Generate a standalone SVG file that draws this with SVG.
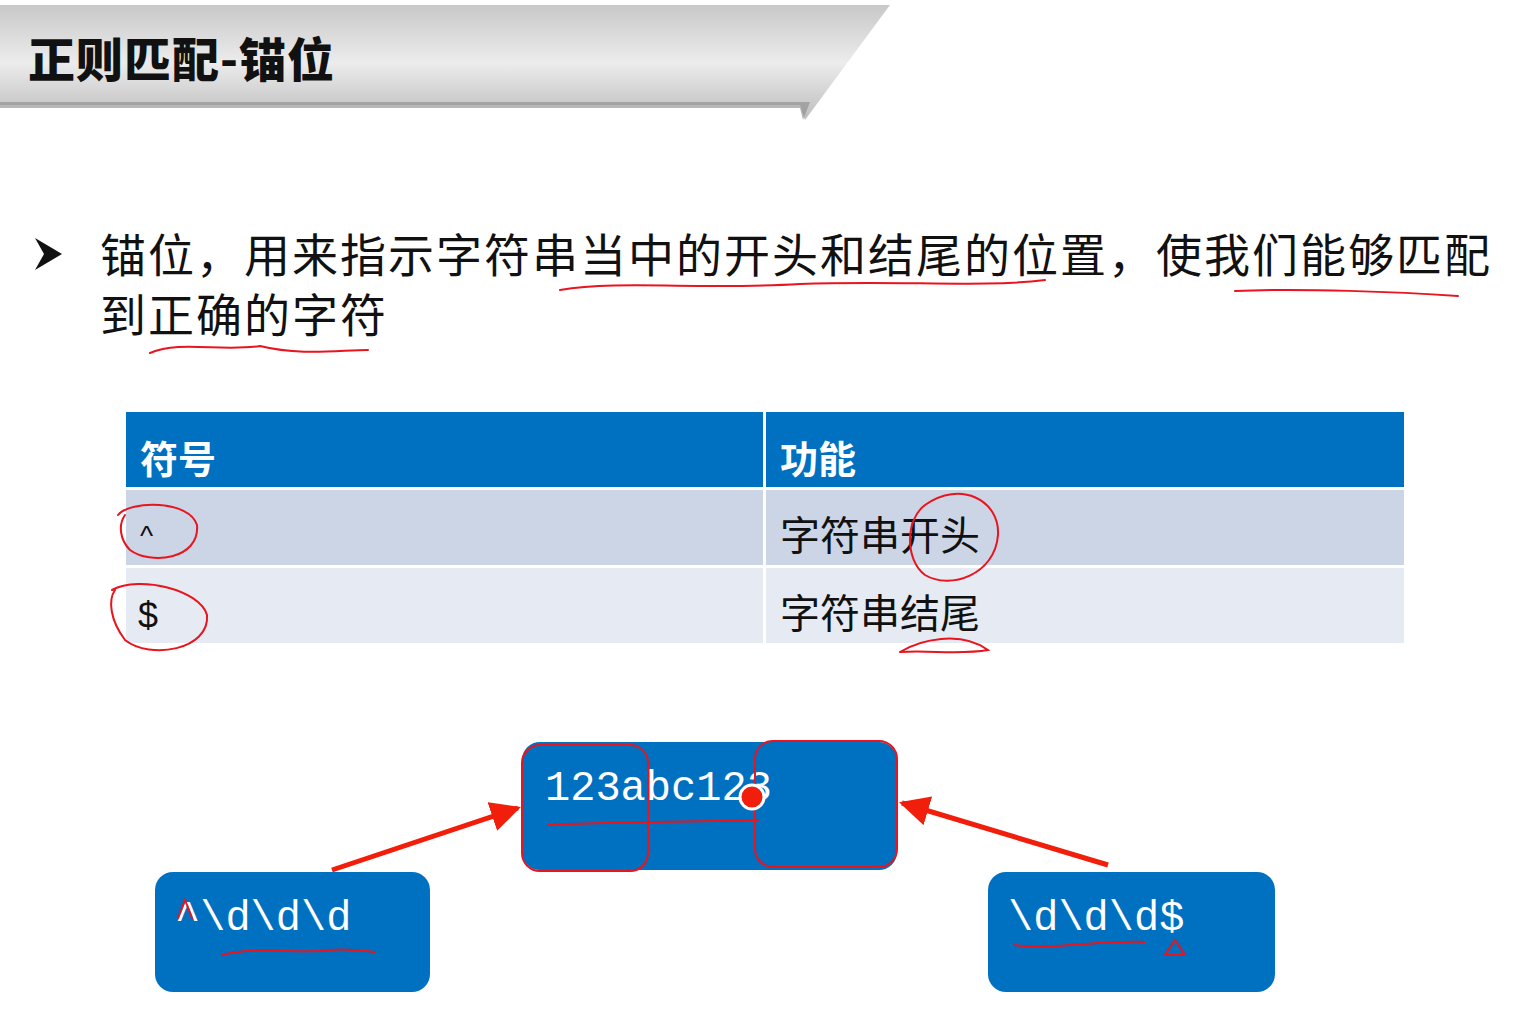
<svg xmlns="http://www.w3.org/2000/svg" width="1515" height="1018" viewBox="0 0 1515 1018">
<defs>
<linearGradient id="hg" x1="0" y1="0" x2="0" y2="1"><stop offset="0" stop-color="#c8c8c8"/><stop offset="0.5" stop-color="#ececec"/><stop offset="1" stop-color="#bdbdbd"/></linearGradient>
<marker id="ah" viewBox="0 0 10 10" refX="9" refY="5" markerWidth="6" markerHeight="6" orient="auto"><path d="M0,0L10,5L0,10z" fill="#f01e0a"/></marker>
</defs>
<style>
.t{font-family:"Noto Sans CJK SC","Noto Sans",sans-serif}
.w{fill:#fff}
.pen{fill:none;stroke:#e8141e;stroke-width:2;stroke-linecap:round}
.box{fill:#0070c0}
.mono{font-family:"Liberation Mono",monospace;font-size:42px;fill:#fff}
</style>
<rect width="1515" height="1018" fill="#fff"/>
<g id="header">
<path d="M0,5 H890 L805,120 L800,105 H0 Z" fill="url(#hg)"/>
<path d="M0,102 H810 L803,120 L800,108 H0 Z" fill="#888" opacity="0.6"/>
<text x="28" y="77" class="t" font-size="47" font-weight="900" fill="#111" letter-spacing="1">正则匹配-锚位</text>
</g>
<g id="bullet">
<path d="M35,238 L62,254 L35,270 L44,254 Z" fill="#111"/>
<text x="100" y="272" class="t" font-size="46" fill="#111" letter-spacing="2">锚位，用来指示字符串当中的开头和结尾的位置，使我们能够匹配</text>
<text x="100" y="332" class="t" font-size="46" fill="#111" letter-spacing="2">到正确的字符</text>
</g>
<g id="table">
<rect x="126" y="412" width="637" height="75" fill="#0070c0"/>
<rect x="766" y="412" width="638" height="75" fill="#0070c0"/>
<rect x="126" y="490" width="637" height="75" fill="#cbd5e6"/>
<rect x="766" y="490" width="638" height="75" fill="#cbd5e6"/>
<rect x="126" y="568" width="637" height="75" fill="#e6ebf3"/>
<rect x="766" y="568" width="638" height="75" fill="#e6ebf3"/>
<text x="140" y="473" class="t w" font-size="38" font-weight="bold">符号</text>
<text x="780" y="473" class="t w" font-size="38" font-weight="bold">功能</text>
<text x="140" y="545" font-family="Liberation Sans,sans-serif" font-size="28" fill="#111">^</text>
<text x="138" y="628" font-family="Liberation Sans,sans-serif" font-size="36" fill="#111">$</text>
<text x="780" y="550" class="t" font-size="40" fill="#111">字符串开头</text>
<text x="780" y="628" class="t" font-size="40" fill="#111">字符串结尾</text>
</g>
<g id="node-target">
<rect x="522" y="742" width="375" height="128" rx="18" class="box"/>
<text x="545" y="800" class="mono">123abc123</text>
</g>
<g id="node-start">
<rect x="155" y="872" width="275" height="120" rx="18" class="box"/>
<text x="175" y="930" class="mono">^\d\d\d</text>
</g>
<g id="node-end">
<rect x="988" y="872" width="287" height="120" rx="18" class="box"/>
<text x="1008" y="930" class="mono">\d\d\d$</text>
</g>
<g id="connectors">
<line x1="332" y1="870" x2="518" y2="808" stroke="#f01e0a" stroke-width="5" marker-end="url(#ah)"/>
<line x1="1108" y1="865" x2="902" y2="803" stroke="#f01e0a" stroke-width="5" marker-end="url(#ah)"/>
</g>
<g id="annotations">
<path class="pen" d="M560,290 C620,280 700,290 800,284 C900,280 980,288 1045,280"/>
<path class="pen" d="M1235,291 C1300,288 1400,292 1458,296"/>
<path class="pen" d="M150,353 C180,340 220,352 260,346 C300,356 340,350 368,350"/>
<path class="pen" d="M118,515 C130,500 190,500 197,525 C200,560 150,565 130,550 C120,540 118,525 125,515"/>
<path class="pen" d="M112,590 C140,575 200,590 207,615 C210,650 150,660 125,640 C110,620 108,600 115,590"/>
<path class="pen" d="M925,505 C960,480 1000,500 998,535 C995,575 950,590 925,575 C905,560 905,520 925,505"/>
<path class="pen" d="M900,652 C920,640 960,630 988,650 C960,655 930,650 900,652"/>
<path class="pen" d="M548,825 C600,822 700,822 758,820"/>
<rect x="522" y="745" width="126" height="126" rx="18" fill="none" stroke="#e8141e" stroke-width="2"/>
<rect x="755" y="741" width="142" height="126" rx="18" fill="none" stroke="#e8141e" stroke-width="2"/>
<path class="pen" d="M222,955 C260,945 300,955 330,950 C350,948 370,952 375,952"/>
<path class="pen" d="M1015,945 C1050,950 1100,940 1145,942"/>
<path class="pen" d="M1165,955 L1175,940 L1185,955 Z"/>
<path class="pen" d="M178,918 L185,900 L192,918"/>
<circle cx="752" cy="797" r="12" fill="#f01e0a" stroke="#fff" stroke-width="3"/>
</g>
</svg>
